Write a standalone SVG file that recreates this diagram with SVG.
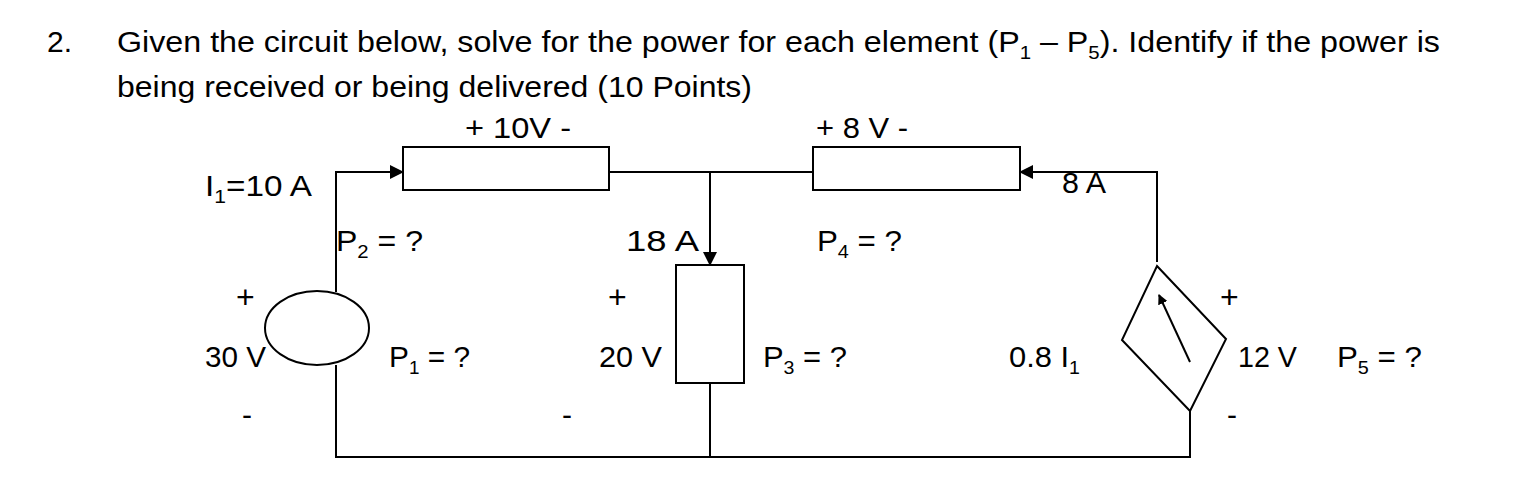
<svg xmlns="http://www.w3.org/2000/svg" width="1520" height="478" viewBox="0 0 1520 478">
<style>
text{font-family:"Liberation Sans",Arial,sans-serif;font-size:30px;fill:#000}
.h{font-size:30px}
.s{font-size:19px}
.w{fill:none;stroke:#000;stroke-width:2}
.e{fill:#fff;stroke:#000;stroke-width:2}
</style>
<defs><marker id="a" markerWidth="10" markerHeight="10" refX="9" refY="5" orient="auto" markerUnits="userSpaceOnUse"><path d="M0,0L10,5L0,10z" fill="#000"/></marker>
<marker id="b" markerWidth="14" markerHeight="14" refX="13" refY="7" orient="auto" markerUnits="userSpaceOnUse"><path d="M0,0L14,7L0,14z" fill="#000"/></marker></defs>
<text class="h" x="47" y="52">2.</text>
<text class="h" x="117" y="52" textLength="1323" lengthAdjust="spacingAndGlyphs">Given the circuit below, solve for the power for each element (P<tspan class="s" dy="7">1</tspan><tspan dy="-7"> – P</tspan><tspan class="s" dy="7">5</tspan><tspan dy="-7">).  Identify if the power is</tspan></text>
<text class="h" x="117" y="97" textLength="635" lengthAdjust="spacingAndGlyphs">being received or being delivered (10 Points)</text>
<g id="connectors">
<path class="w" d="M336,292V172H403" marker-end="url(#b)"/>
<path class="w" d="M609,172H813"/>
<path class="w" d="M710,172V265" marker-end="url(#b)"/>
<path class="w" d="M1157,262V172H1020" marker-end="url(#b)"/>
<path class="w" d="M336,365V457H1190V411"/>
<path class="w" d="M710,383V457"/>
</g>
<g id="r1"><rect class="e" x="403" y="147" width="206" height="43"/></g>
<g id="r4"><rect class="e" x="813" y="147" width="207" height="43"/></g>
<g id="r3"><rect class="e" x="676" y="265" width="68" height="118"/></g>
<g id="v1"><ellipse class="e" cx="317" cy="328" rx="52" ry="37"/></g>
<g id="dep"><path class="e" d="M1157,266L1226,339L1190,411L1122,340Z"/><path class="w" d="M1190,362L1159,295" marker-end="url(#a)"/></g>
<text x="465" y="138" textLength="106" lengthAdjust="spacingAndGlyphs">+ 10V -</text>
<text x="816" y="138" textLength="92" lengthAdjust="spacingAndGlyphs">+ 8 V -</text>
<text x="205" y="196" textLength="107" lengthAdjust="spacingAndGlyphs">I<tspan class="s" dy="7">1</tspan><tspan dy="-7">=10 A</tspan></text>
<text x="1062" y="193" textLength="44" lengthAdjust="spacingAndGlyphs">8 A</text>
<text x="336" y="251" textLength="87" lengthAdjust="spacingAndGlyphs">P<tspan class="s" dy="7">2</tspan><tspan dy="-7"> = ?</tspan></text>
<text x="626" y="251" textLength="73" lengthAdjust="spacingAndGlyphs">18  A</text>
<text x="817" y="251" textLength="85" lengthAdjust="spacingAndGlyphs">P<tspan class="s" dy="7">4</tspan><tspan dy="-7"> = ?</tspan></text>
<text x="236" y="308" style="font-size:32px">+</text>
<text x="608" y="308" style="font-size:32px">+</text>
<text x="1220" y="308" style="font-size:32px">+</text>
<text x="205" y="367" textLength="61" lengthAdjust="spacingAndGlyphs">30 V</text>
<text x="389" y="367" textLength="81" lengthAdjust="spacingAndGlyphs">P<tspan class="s" dy="7">1</tspan><tspan dy="-7"> = ?</tspan></text>
<text x="599" y="367" textLength="63" lengthAdjust="spacingAndGlyphs">20 V</text>
<text x="763" y="367" textLength="84" lengthAdjust="spacingAndGlyphs">P<tspan class="s" dy="7">3</tspan><tspan dy="-7"> = ?</tspan></text>
<text x="1009" y="367" textLength="71" lengthAdjust="spacingAndGlyphs">0.8 I<tspan class="s" dy="7">1</tspan></text>
<text x="1238" y="367" textLength="59" lengthAdjust="spacingAndGlyphs">12 V</text>
<text x="1337" y="367" textLength="85" lengthAdjust="spacingAndGlyphs">P<tspan class="s" dy="7">5</tspan><tspan dy="-7"> = ?</tspan></text>
<text x="242" y="425">-</text>
<text x="562" y="425">-</text>
<text x="1227" y="425">-</text>
</svg>
